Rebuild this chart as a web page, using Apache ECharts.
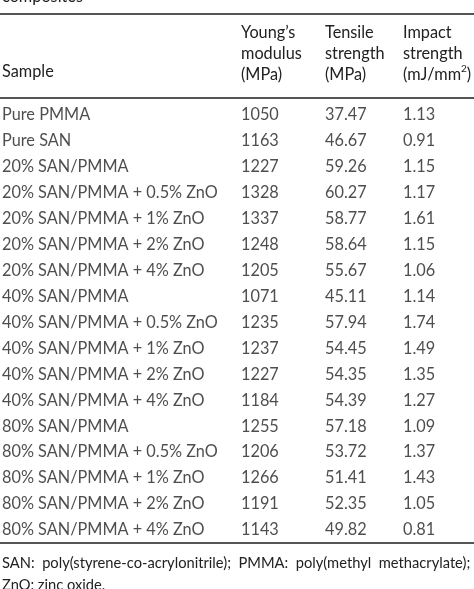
<!DOCTYPE html>
<html><head><meta charset="utf-8">
<script src="https://cdn.jsdelivr.net/npm/echarts@6/dist/echarts.min.js"></script>
<style>html,body{margin:0;padding:0;background:#fff}#c{width:474px;height:589px}</style>
</head><body><div id="c"></div>
<script>
const samples = ["Pure PMMA","Pure SAN","20% SAN/PMMA","20% SAN/PMMA + 0.5% ZnO","20% SAN/PMMA + 1% ZnO","20% SAN/PMMA + 2% ZnO","20% SAN/PMMA + 4% ZnO","40% SAN/PMMA","40% SAN/PMMA + 0.5% ZnO","40% SAN/PMMA + 1% ZnO","40% SAN/PMMA + 2% ZnO","40% SAN/PMMA + 4% ZnO","80% SAN/PMMA","80% SAN/PMMA + 0.5% ZnO","80% SAN/PMMA + 1% ZnO","80% SAN/PMMA + 2% ZnO","80% SAN/PMMA + 4% ZnO"];
const youngs = ["1050","1163","1227","1328","1337","1248","1205","1071","1235","1237","1227","1184","1255","1206","1266","1191","1143"];
const tensile = ["37.47","46.67","59.26","60.27","58.77","58.64","55.67","45.11","57.94","54.45","54.35","54.39","57.18","53.72","51.41","52.35","49.82"];
const impact = ["1.13","0.91","1.15","1.17","1.61","1.15","1.06","1.14","1.74","1.49","1.35","1.27","1.09","1.37","1.43","1.05","0.81"];
const columns = [samples, youngs, tensile, impact];
const colX = [2, 241, 325, 403];
const F = 'Lato, "Open Sans", sans-serif';
const FS = 16.3;
const series = columns.map((col, ci) => ({
  type:'scatter', symbolSize:0, silent:true,
  data: col.map((v,i)=>({value:[colX[ci], samples[i]], name:v})),
  label:{show:true, position:'right', distance:0, formatter:p=>p.name, color:'#222', fontSize:FS, fontFamily:F}
}));
const hdr = (x, lines, rich) => ({type:'text', left:x, top:22, style:{text:lines, fontSize:FS, lineHeight:21, fill:'#222', fontFamily:F, rich:rich}});
const chart = echarts.init(document.getElementById('c'));
chart.setOption({
  animation:false,
  grid:{left:0,right:0,top:102,bottom:46},
  xAxis:{type:'value',min:0,max:474,show:false},
  yAxis:{type:'category',data:samples,inverse:true,show:false},
  series:series,
  graphic:[
    {type:'text',left:2,top:-11,style:{text:'composites',fontSize:FS,fill:'#222',fontFamily:F}},
    {type:'rect',shape:{x:0,y:13,width:474,height:2},style:{fill:'#555'}},
    {type:'rect',shape:{x:0,y:97,width:474,height:2},style:{fill:'#555'}},
    {type:'rect',shape:{x:0,y:542,width:474,height:2},style:{fill:'#555'}},
    {type:'text',left:2,top:64,style:{text:'Sample',fontSize:FS,fill:'#222',fontFamily:F}},
    hdr(241,"Young’s\nmodulus\n(MPa)"),
    hdr(325,"Tensile\nstrength\n(MPa)"),
    hdr(403,"Impact\nstrength\n(mJ/mm{s|2})",{s:{fontSize:10,verticalAlign:'top',fill:'#222',fontFamily:F,padding:[0,0,8,0]}}),
    {type:'text',left:2,top:552,style:{text:'SAN:  poly(styrene-co-acrylonitrile);  PMMA:  poly(methyl  methacrylate);\nZnO: zinc oxide.',fontSize:14.7,lineHeight:22,fill:'#222',fontFamily:F}}
  ]
});
</script></body></html>
